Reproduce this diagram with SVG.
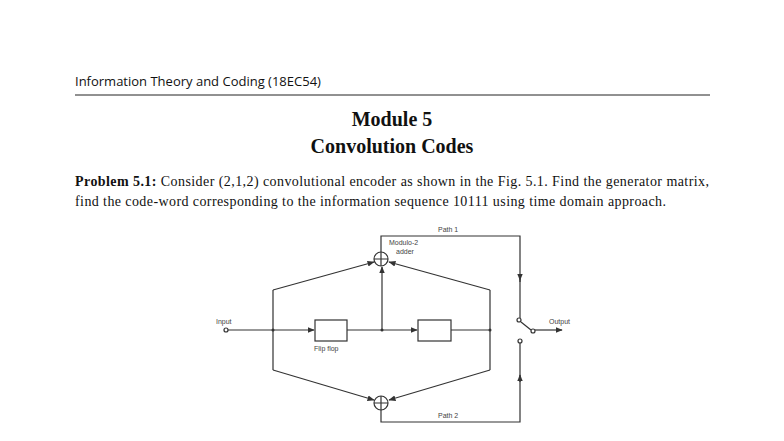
<svg xmlns="http://www.w3.org/2000/svg" width="784" height="441" viewBox="0 0 784 441">
<style>
.l{stroke:#333;stroke-width:1.2;fill:none}
.s{font-family:"Liberation Sans",sans-serif;font-size:7px;fill:#444}
.t{font-family:"Liberation Serif",serif;fill:#111}
</style>
<defs><marker id="a" viewBox="0 0 10 10" refX="9" refY="5" markerWidth="6" markerHeight="6" orient="auto"><path d="M0,1L10,5L0,9z" fill="#333"/></marker></defs>
<rect width="784" height="441" fill="#fff"/>
<text x="75" y="86" font-family="Open Sans,sans-serif" font-size="13" fill="#111">Information Theory and Coding (18EC54)</text>
<line x1="75" y1="95" x2="710" y2="95" stroke="#222" stroke-width="1"/>
<text class="t" x="392" y="126" font-size="20" font-weight="bold" text-anchor="middle">Module 5</text>
<text class="t" x="392" y="153" font-size="20" font-weight="bold" text-anchor="middle">Convolution Codes</text>
<text class="t" x="75" y="186" font-size="14" textLength="634" lengthAdjust="spacing"><tspan font-weight="bold">Problem 5.1:</tspan> Consider (2,1,2) convolutional encoder as shown in the Fig. 5.1. Find the generator matrix,</text>
<text class="t" x="75" y="206" font-size="14" textLength="591" lengthAdjust="spacing">find the code-word corresponding to the information sequence 10111 using time domain approach.</text>
<g id="connectors">
<path class="l" d="M228,330H273M273,330H314" marker-end="url(#a)"/>
<path class="l" d="M347,330H382M382,330H417" marker-end="url(#a)"/>
<path class="l" d="M451,330H490"/>
<path class="l" d="M382,330V267" marker-end="url(#a)"/>
<path class="l" d="M273,290V370M490,290V370"/>
<path class="l" d="M273,290L374,262" marker-end="url(#a)"/>
<path class="l" d="M490,290L389,262" marker-end="url(#a)"/>
<path class="l" d="M273,370L374,400" marker-end="url(#a)"/>
<path class="l" d="M490,370L389,400" marker-end="url(#a)"/>
<path class="l" d="M381,252V236H520V282"/>
<path class="l" d="M520,278V280" marker-end="url(#a)"/>
<path class="l" d="M520,280V318"/>
<path class="l" d="M381,410V422H520V343"/>
<path class="l" d="M520,382V375" marker-end="url(#a)"/>
<path class="l" d="M521,322L531,330"/>
<path class="l" d="M535,330H562" marker-end="url(#a)"/>
<circle cx="273" cy="330" r="1.5" fill="#333"/><circle cx="382" cy="330" r="1.5" fill="#333"/><circle cx="490" cy="330" r="1.5" fill="#333"/>
</g>
<g id="input"><circle cx="226" cy="330" r="2" class="l"/><text class="s" x="216" y="324">Input</text></g>
<g id="ff1"><rect x="315" y="320" width="32" height="21" class="l"/><text class="s" x="314" y="351">Flip flop</text></g>
<g id="ff2"><rect x="418" y="320" width="33" height="21" class="l"/></g>
<g id="adder1"><circle cx="381" cy="259" r="7" class="l"/><path class="l" d="M374,259H388M381,252V266"/><text class="s" x="389" y="245">Modulo-2</text><text class="s" x="396" y="254">adder</text></g>
<g id="adder2"><circle cx="381" cy="403" r="7" class="l"/><path class="l" d="M374,403H388M381,396V410"/></g>
<g id="switch"><circle cx="519" cy="320" r="2" class="l"/><circle cx="520" cy="341" r="2" class="l"/><circle cx="533" cy="331" r="2" class="l"/><text class="s" x="549" y="324">Output</text></g>
<text class="s" x="438" y="232">Path 1</text>
<text class="s" x="438" y="418">Path 2</text>
</svg>
